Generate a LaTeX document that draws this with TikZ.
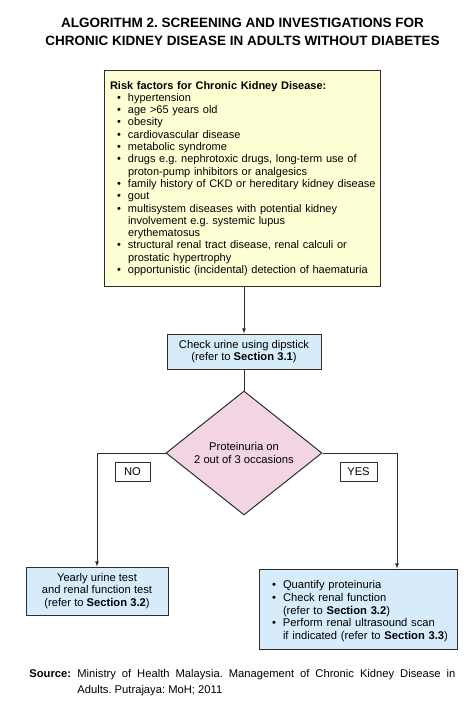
\documentclass[tikz,border=0pt]{standalone}
\usepackage{fontspec}
\setmainfont{Liberation Sans}
\usetikzlibrary{shapes.geometric}

\definecolor{riskyellow}{RGB}{255,255,214}
\definecolor{stepblue}{RGB}{214,236,250}
\definecolor{decpink}{RGB}{243,212,228}
\definecolor{edgegray}{RGB}{45,45,45}

% one bulleted line of a box
\newcommand{\boxitem}[2][20pt]{\par{\leftskip=#1\noindent\llap{\textbullet\hspace{7pt}}#2\par}}

\frenchspacing
\hyphenpenalty=10000

\begin{document}
\begin{tikzpicture}[x=1pt,y=-1pt,>=latex,
    line width=0.8pt,draw=edgegray,
    stepbox/.style={draw=edgegray,line width=1pt,fill=stepblue,inner sep=4pt,
      font=\fontsize{11.2}{12.8}\selectfont},
    answer/.style={draw=edgegray,line width=0.9pt,fill=white,inner sep=0pt,
      minimum height=19pt,font=\fontsize{11.2}{12.8}\selectfont}]

	% fix the page size
	\useasboundingbox (0,0) rectangle (474,716);

	% title
	\node[align=center,font=\bfseries\fontsize{13.5}{18}\selectfont] (title) at (242.5,31.5)
	  {ALGORITHM 2. SCREENING AND INVESTIGATIONS FOR\\CHRONIC KIDNEY DISEASE IN ADULTS WITHOUT DIABETES};

	% risk factors
	\node[draw=edgegray,line width=1pt,fill=riskyellow,anchor=north,text width=276pt,
	      minimum height=216pt,inner xsep=0pt,align=left,
	      font=\fontsize{11}{12.3}\selectfont] (risk) at (242,70) {%
	  \hspace*{6pt}\textbf{Risk factors for Chronic Kidney Disease:}
	  \boxitem[24pt]{hypertension}
	  \boxitem[24pt]{age >65 years old}
	  \boxitem[24pt]{obesity}
	  \boxitem[24pt]{cardiovascular disease}
	  \boxitem[24pt]{metabolic syndrome}
	  \boxitem[24pt]{drugs e.g. nephrotoxic drugs, long-term use of\\proton-pump inhibitors or analgesics}
	  \boxitem[24pt]{family history of CKD or hereditary kidney disease}
	  \boxitem[24pt]{gout}
	  \boxitem[24pt]{multisystem diseases with potential kidney\\involvement e.g. systemic lupus\\erythematosus}
	  \boxitem[24pt]{structural renal tract disease, renal calculi or\\prostatic hypertrophy}
	  \boxitem[24pt]{opportunistic (incidental) detection of haematuria}};

	% dipstick test and decision
	\node[stepbox,minimum width=154pt,minimum height=35pt,align=center] (dip) at (244,351.5)
	  {Check urine using dipstick\\(refer to \textbf{Section 3.1})};
	\node[diamond,draw=edgegray,line width=1pt,fill=decpink,aspect=1.26,inner sep=0pt,
	      minimum width=156pt,minimum height=124pt,align=center,
	      font=\fontsize{11.2}{13.5}\selectfont] (prot) at (244,453)
	  {Proteinuria on\\2 out of 3 occasions};

	% outcomes
	\node[stepbox,minimum width=142pt,minimum height=48pt,align=center] (yearly) at (97,591)
	  {Yearly urine test\\and renal function test\\(refer to \textbf{Section 3.2})};
	\node[stepbox,text width=190pt,minimum height=80pt,align=left,
	      font=\fontsize{11.2}{12.7}\selectfont] (refer) at (358,609) {%
	  \boxitem{Quantify proteinuria}
	  \boxitem{Check renal function\\(refer to \textbf{Section 3.2})}
	  \boxitem{Perform renal ultrasound scan\\if indicated (refer to \textbf{Section 3.3})}};

	% answers
	\node[answer,minimum width=35pt] (no) at (132.5,471.5) {NO};
	\node[answer,minimum width=37pt] (yes) at (358.5,471.5) {YES};

	% connectors
	\coordinate (yesturn) at (397,453);
	\draw[->] (risk.south -| dip.north) -- (dip.north);
	\draw (dip.south) -- (prot.north);
	\draw[->] (prot.west) -| (yearly.north);
	\draw[->] (prot.east) -- (yesturn) -- (yesturn |- refer.north);

	% source line
	\node[anchor=north west,inner sep=0pt,
	      font=\fontsize{11.2}{16}\selectfont] (source) at (29,669)
	  {\makebox[48pt][l]{\textbf{Source:}}\parbox[t]{378pt}{Ministry of Health Malaysia. Management of Chronic Kidney Disease in\linebreak Adults. Putrajaya: MoH; 2011}};

\end{tikzpicture}
\end{document}
